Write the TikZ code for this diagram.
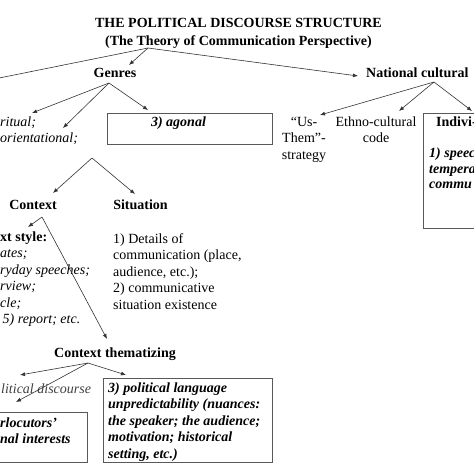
\documentclass[tikz,border=0pt]{standalone}
\usepackage{fontspec}
\setmainfont{Liberation Serif}
\usetikzlibrary{arrows.meta}
\begin{document}
\begin{tikzpicture}[x=1pt,y=-1pt,
  txtn/.style={inner sep=0pt, font=\fontsize{14}{16.5}\selectfont},
  txtb/.style={inner sep=0pt, font=\fontsize{14}{16.5}\selectfont\bfseries},
  txti/.style={inner sep=0pt, font=\fontsize{14}{16.5}\selectfont\itshape},
  txtbi/.style={inner sep=0pt, font=\fontsize{14}{16.5}\selectfont\bfseries\itshape},
  arr/.style={draw=black!80, line width=0.6pt, -{Latex[length=5pt,width=4pt]}},
  ln/.style={draw=black!80, line width=0.6pt},
  boxc/.style={draw=black!65, line width=0.8pt, inner sep=0pt, anchor=north west}]
\useasboundingbox (0,0) rectangle (474,474);
\clip (0,0) rectangle (474,474);

% title
\node[txtb, anchor=base] (t1) at (238.5,27.5) {THE POLITICAL DISCOURSE STRUCTURE};
\node[txtb, anchor=base] (t2) at (238.5,45) {(The Theory of Communication Perspective)};

% level 1
\node[txtb, anchor=base] (genres) at (115,77) {Genres};
\node[txtb, anchor=base west] (natc) at (366,77) {National cultural};

% genres children
\node[txti, anchor=base west] (ritual) at (0,126) {ritual;};
\node[txti, anchor=base west] (orient) at (0,142) {orientational;};
\node[boxc, minimum width=165pt, minimum height=31pt] (agbox) at (107,113) {};
\node[txtbi, anchor=base] (agonal) at (178.5,126) {3) agonal};

% context / situation
\node[txtb, anchor=base] (context) at (33,209) {Context};
\node[txtb, anchor=base] (situation) at (140.5,209) {Situation};

\node[txtn, anchor=north west, align=left] (sitlist) at (113,231.45)
  {\strut 1) Details of\\communication (place,\\audience, etc.);\\2) communicative\\situation existence};
\node[txti, anchor=north west, align=left] (stylelist) at (0,229.45)
  {\strut\textbf{\upshape xt style:}\\ates;\\ryday speeches;\\rview;\\cle;\\\hspace*{2.5pt}5) report; etc.};

% context thematizing
\node[txtb, anchor=base] (cthem) at (115,357) {Context thematizing};
\node[txti, anchor=base west, text=black!75] (polit) at (1,393) {litical discourse};
\node[boxc, minimum width=100pt, minimum height=50pt] (llbox) at (-13,412) {};
\node[txtbi, anchor=north west, align=left] (interl) at (0,415.45)
  {\strut rlocutors’\\nal interests};
\node[boxc, minimum width=169pt, minimum height=84pt] (lrbox) at (103,378) {};
\node[txtbi, anchor=north west, align=left] (unpred) at (108,380.45)
  {\strut 3) political language\\unpredictability (nuances:\\the speaker; the audience;\\motivation; historical\\setting, etc.)};

% national cultural children
\node[txtn, anchor=north, align=center] (usthem) at (304,114.45) {\strut “Us-\\Them”-\\strategy};
\node[txtn, anchor=north, align=center] (ethno) at (376,114.45) {\strut Ethno-cultural\\code};
\node[boxc, minimum width=80pt, minimum height=115pt] (indbox) at (423,113) {};
\node[txtb, anchor=base west] (indivi) at (436,126) {Indivi-};
\node[txtbi, anchor=north west, align=left, font=\fontsize{14}{15.5}\selectfont\bfseries\itshape] (speech) at (429,146.5)
  {\strut 1) speec\\tempera\\commu};

% connector points
\coordinate (apexT) at (148,48);
\coordinate (offL) at (-30,83.9);
\coordinate (eGen) at (129,65);
\coordinate (eNat) at (358,76);
\coordinate (apexG) at (109,83);
\coordinate (eRit) at (32,113);
\coordinate (eOri) at (63,128);
\coordinate (eAgo) at (148,110);
\coordinate (apexCS) at (92,158);
\coordinate (eCon) at (53,193);
\coordinate (eSit) at (135,194);
\coordinate (apexC) at (42,217);
\coordinate (eSty) at (28,227);
\coordinate (eThm) at (107,339);
\coordinate (apexTh) at (88,363);
\coordinate (ePol) at (20,375);
\coordinate (eInt) at (16,402);
\coordinate (eUnp) at (126,375);
\coordinate (apexN) at (434,82);
\coordinate (eUs) at (320,115);
\coordinate (eEth) at (399,111);
\coordinate (eInd) at (472,111);

\draw[ln] (apexT) -- (offL);
\draw[arr] (apexT) -- (eGen);
\draw[arr] (apexT) -- (eNat);
\draw[arr] (apexG) -- (eRit);
\draw[arr] (apexG) -- (eOri);
\draw[arr] (apexG) -- (eAgo);
\draw[arr] (apexCS) -- (eCon);
\draw[arr] (apexCS) -- (eSit);
\draw[arr] (apexC) -- (eSty);
\draw[arr] (apexC) -- (eThm);
\draw[arr] (apexTh) -- (ePol);
\draw[arr] (apexTh) -- (eInt);
\draw[arr] (apexTh) -- (eUnp);
\draw[arr] (apexN) -- (eUs);
\draw[arr] (apexN) -- (eEth);
\draw[arr] (apexN) -- (eInd);
\end{tikzpicture}
\end{document}
